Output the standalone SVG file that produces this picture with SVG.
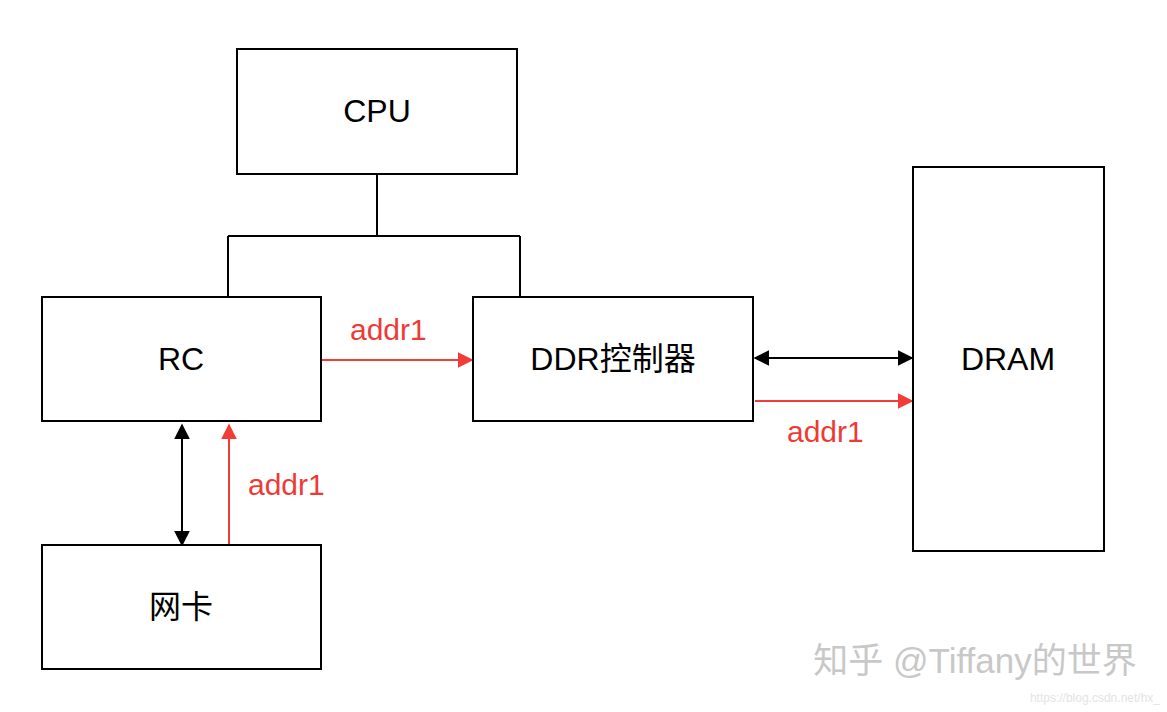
<svg xmlns="http://www.w3.org/2000/svg" width="1167" height="712" viewBox="0 0 1167 712">
<style>
.box{fill:#fff;stroke:#000;stroke-width:2}
.t{font-family:"Liberation Sans","Noto Sans CJK SC",sans-serif;font-size:32px;text-anchor:middle;fill:#000}
.r{font-family:"Liberation Sans",sans-serif;font-size:30px;fill:#ee3a34}
.k{stroke:#000;stroke-width:2;fill:none}
.red{stroke:#f23c38;stroke-width:2;fill:none}
</style>
<defs>
<marker id="ab" viewBox="0 0 10 10" refX="9" refY="5" markerWidth="8" markerHeight="8" orient="auto-start-reverse"><path d="M0,0L10,5L0,10z" fill="#000"/></marker>
<marker id="ar" viewBox="0 0 10 10" refX="9" refY="5" markerWidth="8" markerHeight="8" orient="auto"><path d="M0,0L10,5L0,10z" fill="#f23c38"/></marker>
</defs>
<rect width="1167" height="712" fill="#fff"/>
<g id="connectors">
<path class="k" d="M377,174V236M228,236H520M228,236V297M520,236V297"/>
<path class="k" d="M182,425V545" marker-start="url(#ab)" marker-end="url(#ab)"/>
<path class="red" d="M229,545V425" marker-end="url(#ar)"/>
<path class="red" d="M321,360H472" marker-end="url(#ar)"/>
<path class="k" d="M755,358H912" marker-start="url(#ab)" marker-end="url(#ab)"/>
<path class="red" d="M755,401H912" marker-end="url(#ar)"/>
<text class="r" x="350" y="340">addr1</text>
<text class="r" x="248" y="495">addr1</text>
<text class="r" x="787" y="442">addr1</text>
</g>
<g id="cpu"><rect class="box" x="237" y="49" width="280" height="125"/><text class="t" x="377" y="122">CPU</text></g>
<g id="rc"><rect class="box" x="42" y="297" width="279" height="124"/><text class="t" x="181" y="370">RC</text></g>
<g id="ddr"><rect class="box" x="473" y="297" width="280" height="124"/><text class="t" x="613" y="370">DDR控制器</text></g>
<g id="dram"><rect class="box" x="913" y="167" width="191" height="384"/><text class="t" x="1008" y="370">DRAM</text></g>
<g id="nic"><rect class="box" x="42" y="545" width="279" height="124"/><text class="t" x="181" y="618">网卡</text></g>
<text x="975" y="673" font-family="Liberation Sans,Noto Sans CJK SC,sans-serif" font-size="35" fill="#c8c8c8" text-anchor="middle">知乎 @Tiffany的世界</text>
<text x="1160" y="702" font-family="Liberation Sans,sans-serif" font-size="12" fill="#e4e4e4" text-anchor="end">https://blog.csdn.net/hx_</text>
</svg>
